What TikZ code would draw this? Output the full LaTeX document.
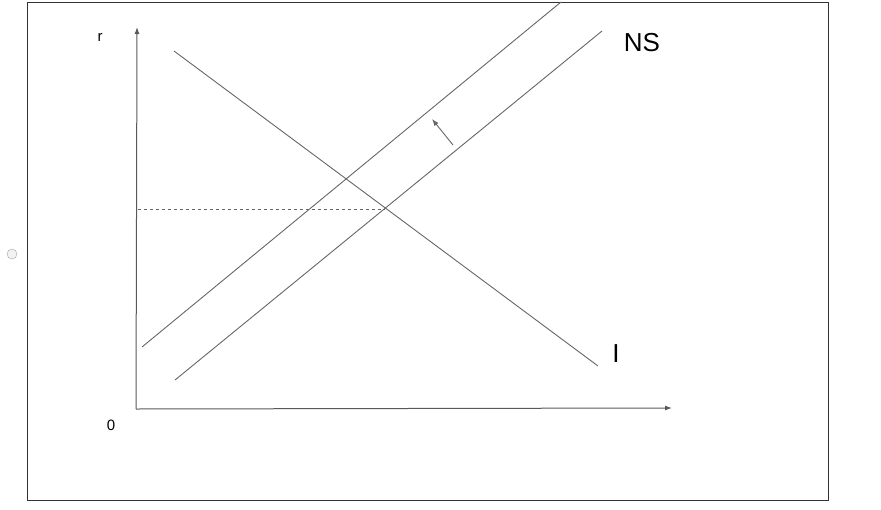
\documentclass[tikz,border=0pt]{standalone}
\usepackage{fontspec}
\setmainfont{Liberation Sans}
\begin{document}
\begin{tikzpicture}[x=1pt,y=-1pt,
  ln/.style={draw=black!60, line width=0.9pt},
  ax/.style={draw=black!65, line width=1pt, -{Latex[length=7pt,width=5pt]}},
  lbl/.style={inner sep=0pt, text=black}]
\usetikzlibrary{arrows.meta}
\useasboundingbox (0,0) rectangle (881,509);
\draw[black!80, line width=0.6pt] (27,2) rectangle (828,500);
\draw[black!35, fill=black!5] (12,254) circle (5);
\coordinate (o) at (136,409);
\coordinate (ytop) at (137,27);
\coordinate (xend) at (672,408);
\draw[ax] (o) -- (ytop);
\draw[ax] (o) -- (xend);
\node[lbl, font=\fontsize{15}{17}\selectfont] (r) at (100,37) {r};
\node[lbl, font=\fontsize{15}{17}\selectfont] (zero) at (111,425) {0};
\coordinate (i1) at (174,51); \coordinate (i2) at (598,366);
\draw[ln] (i1) -- (i2);
\node[lbl, font=\fontsize{26}{28}\selectfont] (I) at (616,354) {I};
\coordinate (n1) at (175,380); \coordinate (n2) at (602,31);
\draw[ln] (n1) -- (n2);
\node[lbl, font=\fontsize{26}{28}\selectfont] (NS) at (642,43) {NS};
\coordinate (s1) at (142,347); \coordinate (s2) at (561,2);
\draw[ln] (s1) -- (s2);
\coordinate (d1) at (138,209); \coordinate (d2) at (385,209);
\draw[ln, dashed, line width=0.7pt] (d1) -- (d2);
\coordinate (a1) at (453,145); \coordinate (a2) at (432,119);
\draw[ln, -{Latex[length=7pt,width=5pt]}] (a1) -- (a2);
\end{tikzpicture}
\end{document}
